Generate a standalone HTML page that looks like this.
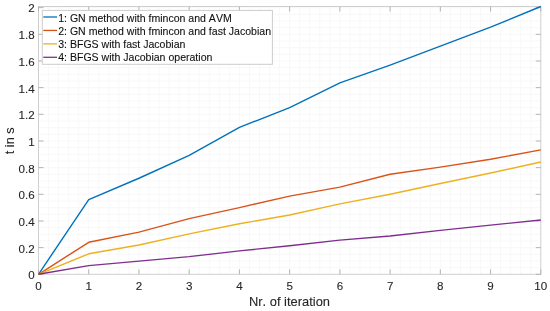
<!DOCTYPE html>
<html><head><meta charset="utf-8"><style>html,body{margin:0;padding:0;background:#fff;width:550px;height:311px;overflow:hidden;}svg{display:block;}text{font-family:"Liberation Sans",Arial,Helvetica,sans-serif;fill:#262626;font-kerning:none;stroke:#262626;stroke-width:0.1px;}</style></head><body>
<svg width="550" height="311" viewBox="0 0 550 311">
<rect width="550" height="311" fill="#fff"/>
<path d="M48.55 6.50V274.30M58.59 6.50V274.30M68.64 6.50V274.30M78.68 6.50V274.30M88.73 6.50V274.30M98.78 6.50V274.30M108.82 6.50V274.30M118.87 6.50V274.30M128.91 6.50V274.30M138.96 6.50V274.30M149.01 6.50V274.30M159.05 6.50V274.30M169.10 6.50V274.30M179.14 6.50V274.30M189.19 6.50V274.30M199.24 6.50V274.30M209.28 6.50V274.30M219.33 6.50V274.30M229.37 6.50V274.30M239.42 6.50V274.30M249.47 6.50V274.30M259.51 6.50V274.30M269.56 6.50V274.30M279.60 6.50V274.30M289.65 6.50V274.30M299.70 6.50V274.30M309.74 6.50V274.30M319.79 6.50V274.30M329.83 6.50V274.30M339.88 6.50V274.30M349.93 6.50V274.30M359.97 6.50V274.30M370.02 6.50V274.30M380.06 6.50V274.30M390.11 6.50V274.30M400.16 6.50V274.30M410.20 6.50V274.30M420.25 6.50V274.30M430.29 6.50V274.30M440.34 6.50V274.30M450.39 6.50V274.30M460.43 6.50V274.30M470.48 6.50V274.30M480.52 6.50V274.30M490.57 6.50V274.30M500.62 6.50V274.30M510.66 6.50V274.30M520.71 6.50V274.30M530.75 6.50V274.30M38.50 267.63H540.80M38.50 260.97H540.80M38.50 254.30H540.80M38.50 247.63H540.80M38.50 240.97H540.80M38.50 234.30H540.80M38.50 227.63H540.80M38.50 220.97H540.80M38.50 214.30H540.80M38.50 207.63H540.80M38.50 200.97H540.80M38.50 194.30H540.80M38.50 187.64H540.80M38.50 180.97H540.80M38.50 174.30H540.80M38.50 167.64H540.80M38.50 160.97H540.80M38.50 154.30H540.80M38.50 147.64H540.80M38.50 140.97H540.80M38.50 134.30H540.80M38.50 127.64H540.80M38.50 120.97H540.80M38.50 114.30H540.80M38.50 107.64H540.80M38.50 100.97H540.80M38.50 94.30H540.80M38.50 87.64H540.80M38.50 80.97H540.80M38.50 74.31H540.80M38.50 67.64H540.80M38.50 60.97H540.80M38.50 54.31H540.80M38.50 47.64H540.80M38.50 40.97H540.80M38.50 34.31H540.80M38.50 27.64H540.80M38.50 20.97H540.80M38.50 14.31H540.80M38.50 7.64H540.80" stroke="#f8f8f8" stroke-width="1" fill="none"/>
<rect x="38.50" y="6.50" width="502.30" height="267.80" fill="none" stroke="#cfcfcf" stroke-width="1"/>
<path d="M38.50 274.30V269.30M38.50 6.50V11.50M88.73 274.30V269.30M88.73 6.50V11.50M138.96 274.30V269.30M138.96 6.50V11.50M189.19 274.30V269.30M189.19 6.50V11.50M239.42 274.30V269.30M239.42 6.50V11.50M289.65 274.30V269.30M289.65 6.50V11.50M339.88 274.30V269.30M339.88 6.50V11.50M390.11 274.30V269.30M390.11 6.50V11.50M440.34 274.30V269.30M440.34 6.50V11.50M490.57 274.30V269.30M490.57 6.50V11.50M540.80 274.30V269.30M540.80 6.50V11.50M38.50 274.30H43.50M540.80 274.30H535.80M38.50 247.63H43.50M540.80 247.63H535.80M38.50 220.97H43.50M540.80 220.97H535.80M38.50 194.30H43.50M540.80 194.30H535.80M38.50 167.64H43.50M540.80 167.64H535.80M38.50 140.97H43.50M540.80 140.97H535.80M38.50 114.30H43.50M540.80 114.30H535.80M38.50 87.64H43.50M540.80 87.64H535.80M38.50 60.97H43.50M540.80 60.97H535.80M38.50 34.31H43.50M540.80 34.31H535.80M38.50 7.64H43.50M540.80 7.64H535.80" stroke="#b4b4b4" stroke-width="1" fill="none"/>
<polyline points="38.50,274.30 88.73,199.69 138.96,178.26 189.19,155.35 239.42,127.36 289.65,107.67 339.88,82.89 390.11,65.07 440.34,46.18 490.57,27.16 540.80,6.50" fill="none" stroke="#0072bd" stroke-width="1.4" stroke-linejoin="round"/>
<polyline points="38.50,274.30 88.73,242.29 138.96,232.11 189.19,218.58 239.42,207.59 289.65,196.07 339.88,187.10 390.11,174.24 440.34,167.14 490.57,159.24 540.80,149.86" fill="none" stroke="#d95319" stroke-width="1.4" stroke-linejoin="round"/>
<polyline points="38.50,274.30 88.73,253.81 138.96,244.96 189.19,233.85 239.42,223.80 289.65,214.96 339.88,203.84 390.11,194.20 440.34,183.48 490.57,173.03 540.80,162.05" fill="none" stroke="#edb120" stroke-width="1.4" stroke-linejoin="round"/>
<polyline points="38.50,274.30 88.73,265.59 138.96,261.17 189.19,256.62 239.42,250.86 289.65,245.77 339.88,240.14 390.11,235.99 440.34,230.36 490.57,225.14 540.80,220.05" fill="none" stroke="#7e2f8e" stroke-width="1.4" stroke-linejoin="round"/>
<text x="38.50" y="289.80" font-size="11.6" text-anchor="middle">0</text>
<text x="88.73" y="289.80" font-size="11.6" text-anchor="middle">1</text>
<text x="138.96" y="289.80" font-size="11.6" text-anchor="middle">2</text>
<text x="189.19" y="289.80" font-size="11.6" text-anchor="middle">3</text>
<text x="239.42" y="289.80" font-size="11.6" text-anchor="middle">4</text>
<text x="289.65" y="289.80" font-size="11.6" text-anchor="middle">5</text>
<text x="339.88" y="289.80" font-size="11.6" text-anchor="middle">6</text>
<text x="390.11" y="289.80" font-size="11.6" text-anchor="middle">7</text>
<text x="440.34" y="289.80" font-size="11.6" text-anchor="middle">8</text>
<text x="490.57" y="289.80" font-size="11.6" text-anchor="middle">9</text>
<text x="540.80" y="289.80" font-size="11.6" text-anchor="middle">10</text>
<text x="34.6" y="279.45" font-size="11.6" text-anchor="end">0</text>
<text x="34.6" y="252.75" font-size="11.6" text-anchor="end">0.2</text>
<text x="34.6" y="226.04" font-size="11.6" text-anchor="end">0.4</text>
<text x="34.6" y="199.33" font-size="11.6" text-anchor="end">0.6</text>
<text x="34.6" y="172.63" font-size="11.6" text-anchor="end">0.8</text>
<text x="34.6" y="145.93" font-size="11.6" text-anchor="end">1</text>
<text x="34.6" y="119.22" font-size="11.6" text-anchor="end">1.2</text>
<text x="34.6" y="92.51" font-size="11.6" text-anchor="end">1.4</text>
<text x="34.6" y="65.81" font-size="11.6" text-anchor="end">1.6</text>
<text x="34.6" y="39.11" font-size="11.6" text-anchor="end">1.8</text>
<text x="34.6" y="12.40" font-size="11.6" text-anchor="end">2</text>
<text x="289.5" y="305.7" font-size="12.9" text-anchor="middle">Nr. of iteration</text>
<text transform="translate(14.4,140.8) rotate(-90)" font-size="12.8" text-anchor="middle">t in s</text>
<rect x="42.30" y="10.40" width="230.10" height="53.90" fill="#fff" stroke="#cdcdcd" stroke-width="1"/>
<path d="M43.3 17.00H57.1" stroke="#0072bd" stroke-width="1.3"/>
<text x="58.2" y="21.50" font-size="10.55" style="fill:#111;stroke:#111">1: GN method with fmincon and AVM</text>
<path d="M43.3 30.43H57.1" stroke="#d95319" stroke-width="1.3"/>
<text x="58.2" y="34.77" font-size="10.55" style="fill:#111;stroke:#111">2: GN method with fmincon and fast Jacobian</text>
<path d="M43.3 43.86H57.1" stroke="#edb120" stroke-width="1.3"/>
<text x="58.2" y="48.04" font-size="10.55" style="fill:#111;stroke:#111">3: BFGS with fast Jacobian</text>
<path d="M43.3 57.29H57.1" stroke="#7e2f8e" stroke-width="1.3"/>
<text x="58.2" y="61.31" font-size="10.55" style="fill:#111;stroke:#111">4: BFGS with Jacobian operation</text>
</svg></body></html>
